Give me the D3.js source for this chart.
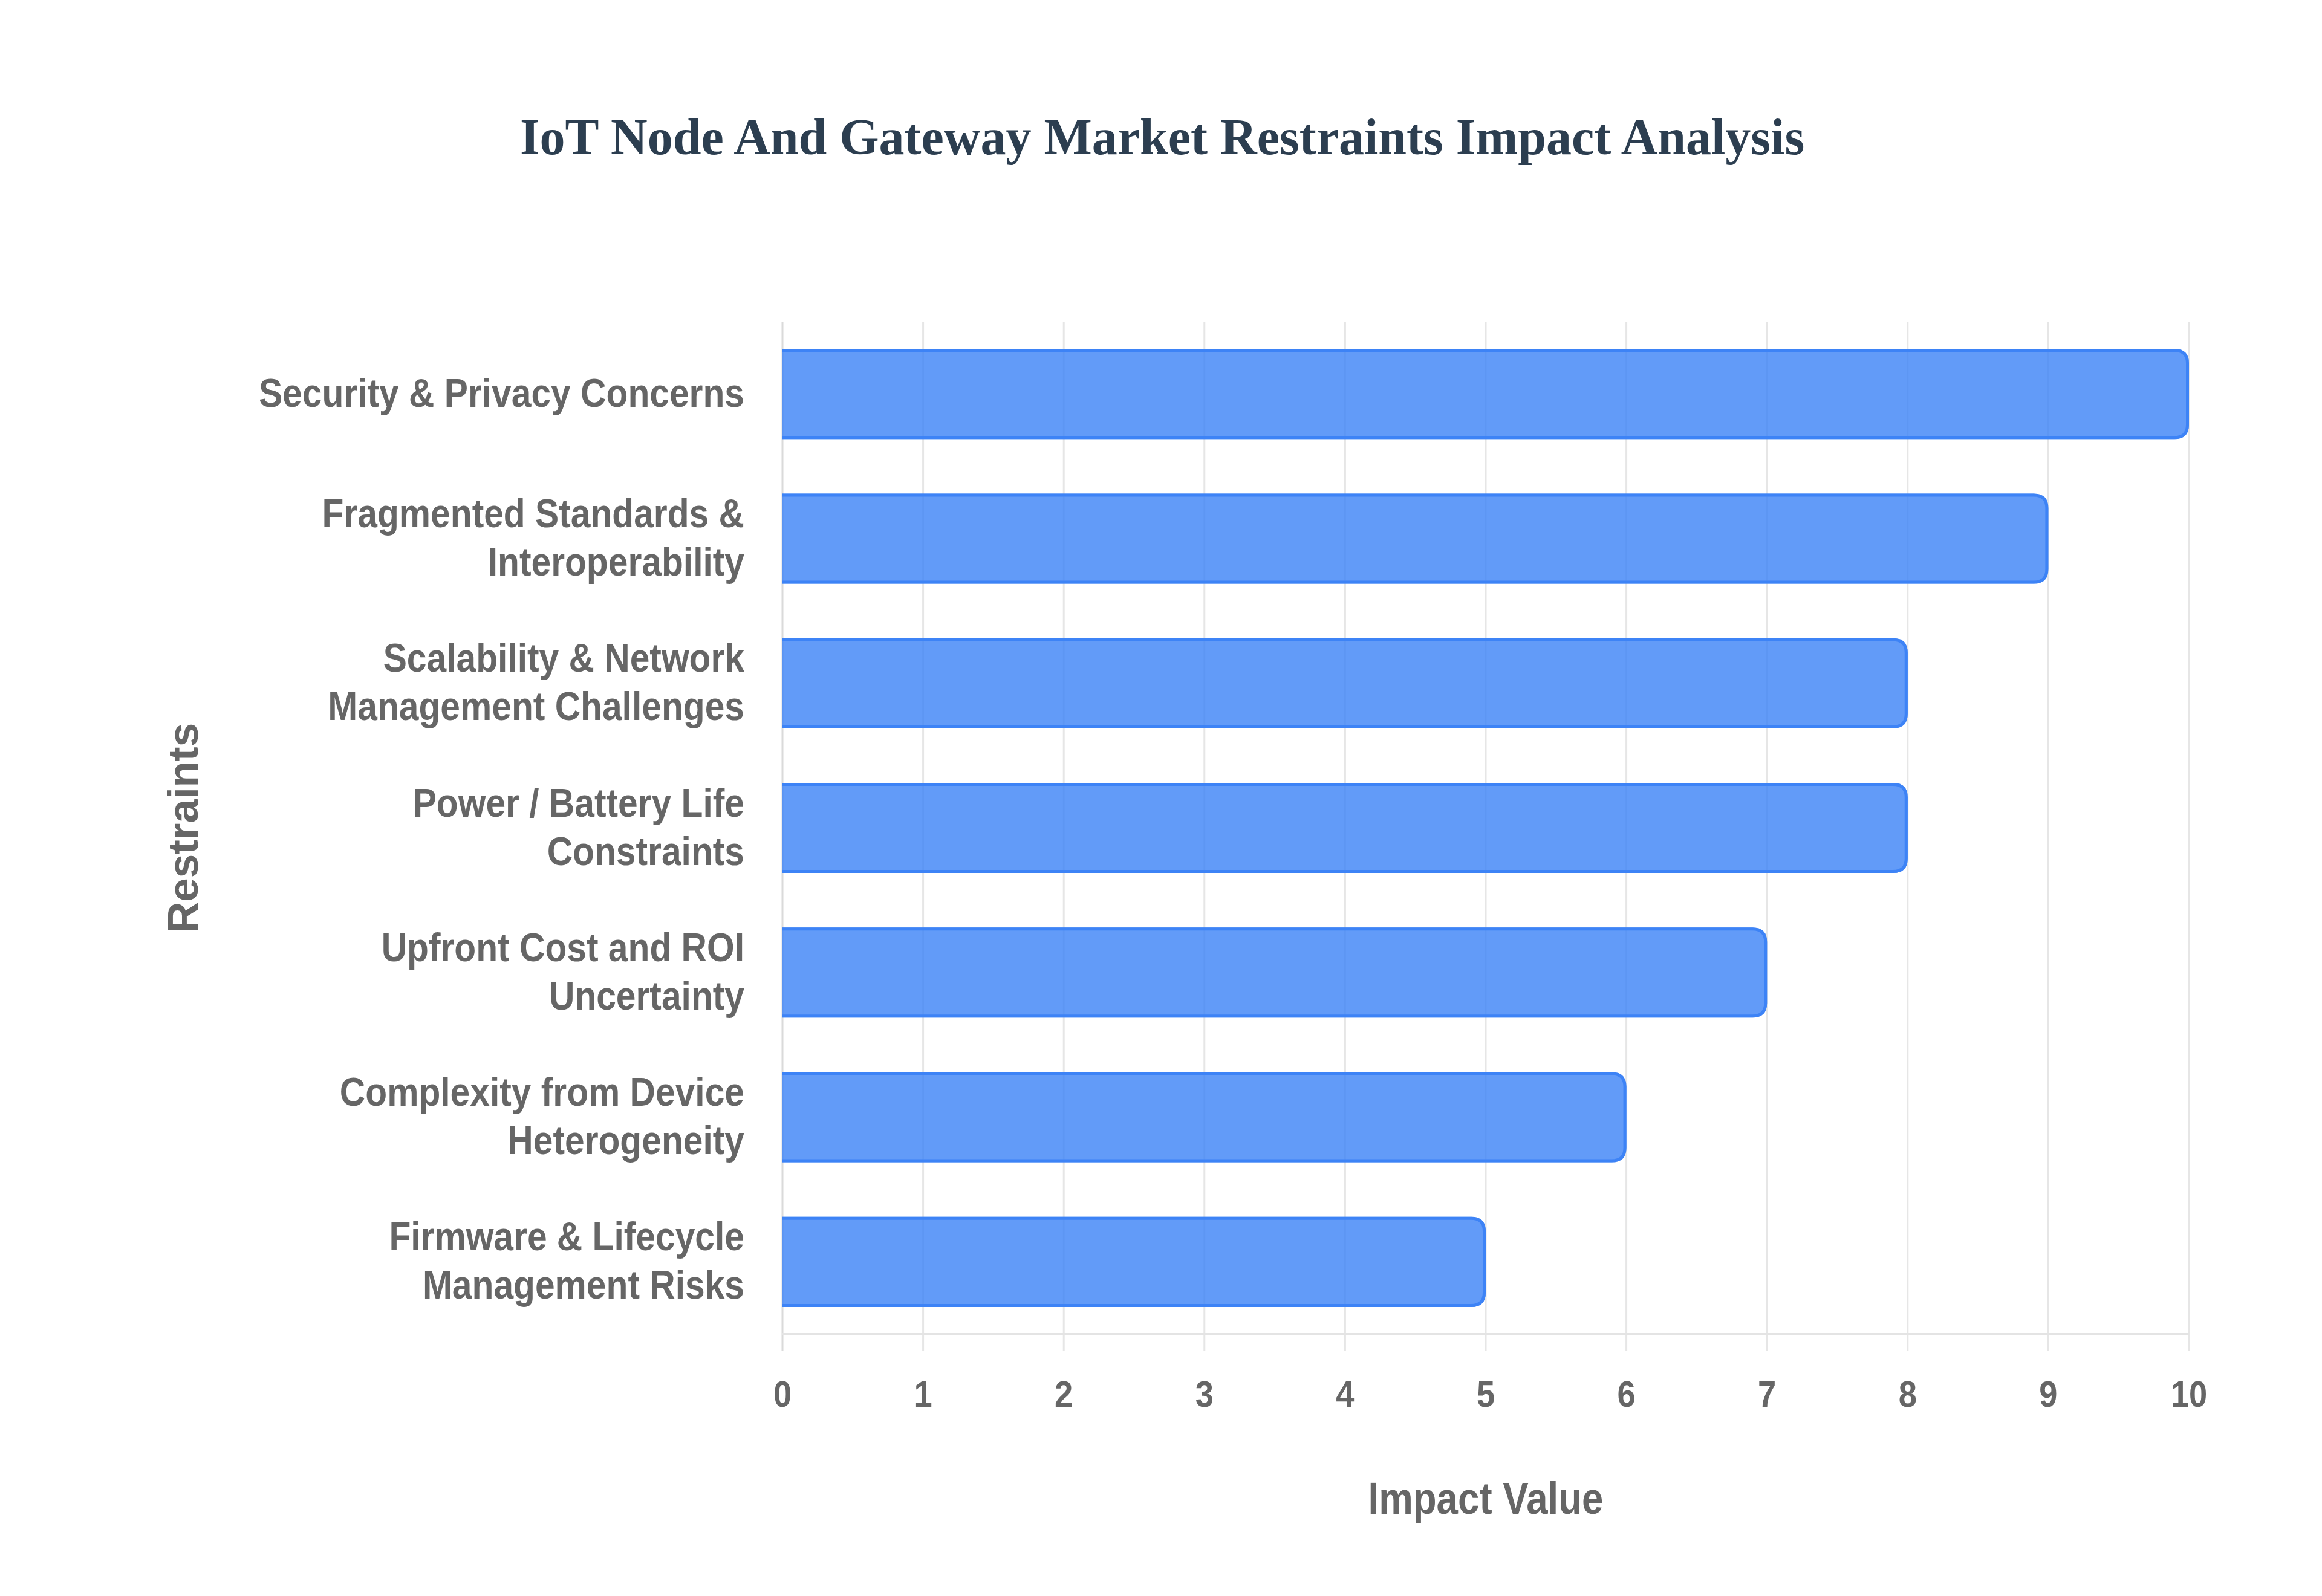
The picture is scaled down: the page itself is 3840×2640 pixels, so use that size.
<!DOCTYPE html>
<html>
<head>
<meta charset="utf-8">
<script src="https://cdn.jsdelivr.net/npm/d3@7"></script>
<style>
  html, body { margin: 0; padding: 0; background: #fff; }
  svg { display: block; }
</style>
</head>
<body>
<div id="chart"></div>
<script>
// chart data
const title = 'IoT Node And Gateway Market Restraints Impact Analysis';
const restraints = [
  ['Security & Privacy Concerns'],
  ['Fragmented Standards &', 'Interoperability'],
  ['Scalability & Network', 'Management Challenges'],
  ['Power / Battery Life', 'Constraints'],
  ['Upfront Cost and ROI', 'Uncertainty'],
  ['Complexity from Device', 'Heterogeneity'],
  ['Firmware & Lifecycle', 'Management Risks']
];
const impactValues = [10, 9, 8, 8, 7, 6, 5];
const xTicks = [0, 1, 2, 3, 4, 5, 6, 7, 8, 9, 10];
const xTitle = 'Impact Value';
const yTitle = 'Restraints';

const width = 3840;
const height = 2640;
const margin = { top: 532, right: 220, bottom: 433, left: 1294 };
const squeeze = 0.89; // the labels in the picture are a bit narrow
const sans = "'Liberation Sans', Arial, Helvetica, sans-serif";

const svg = d3.select('#chart')
  .append('svg')
  .attr('width', width)
  .attr('height', height);

const data = restraints.map((lines, i) => ({ key: lines.join(' '), lines, value: impactValues[i] }));

const x = d3.scaleLinear()
  .domain([0, 10])
  .range([margin.left, margin.left + 2326]);

const y = d3.scaleBand()
  .domain(data.map((d) => d.key))
  .range([margin.top, height - margin.bottom])
  .paddingInner(0.377)
  .paddingOuter(0.1885);

const plotBottom = height - margin.bottom;

// title
svg.append('text')
  .attr('x', 1922)
  .attr('y', 255)
  .attr('text-anchor', 'middle')
  .style('font-family', "'Liberation Serif', 'Times New Roman', serif")
  .style('font-weight', 'bold')
  .style('font-size', '84px')
  .style('fill', '#2c3e50')
  .text(title);

// vertical grid lines (they run a little past the bottom line as ticks)
svg.append('g')
  .selectAll('line')
  .data(xTicks)
  .enter()
  .append('line')
  .attr('x1', (d) => x(d))
  .attr('x2', (d) => x(d))
  .attr('y1', margin.top)
  .attr('y2', plotBottom + 28)
  .attr('stroke', (d) => (d === 0 ? '#dadada' : '#e6e6e6'))
  .attr('stroke-width', 3);

// bottom border line
svg.append('line')
  .attr('x1', x(0))
  .attr('x2', x(10))
  .attr('y1', plotBottom)
  .attr('y2', plotBottom)
  .attr('stroke', '#e4e4e4')
  .attr('stroke-width', 4);

// bars: square at zero, rounded at the end
const r = 24;
const bw = 5;
function fillPath(d) {
  const x0 = x(0), x1 = x(d.value), y0 = y(d.key), y1 = y0 + y.bandwidth();
  return `M${x0},${y0}H${x1 - r}Q${x1},${y0} ${x1},${y0 + r}V${y1 - r}Q${x1},${y1} ${x1 - r},${y1}H${x0}Z`;
}
function strokePath(d) {
  const h = bw / 2;
  const x0 = x(0), x1 = x(d.value) - h, y0 = y(d.key) + h, y1 = y(d.key) + y.bandwidth() - h;
  const rr = r - h;
  return `M${x0},${y0}H${x1 - rr}Q${x1},${y0} ${x1},${y0 + rr}V${y1 - rr}Q${x1},${y1} ${x1 - rr},${y1}H${x0}`;
}

const bars = svg.append('g')
  .selectAll('g')
  .data(data)
  .enter()
  .append('g');

bars.append('path')
  .attr('d', fillPath)
  .attr('fill', 'rgba(59, 130, 246, 0.8)');

bars.append('path')
  .attr('d', strokePath)
  .attr('fill', 'none')
  .attr('stroke', 'rgba(59, 130, 246, 0.95)')
  .attr('stroke-width', bw);

// category labels, right aligned, one or two lines
const lineH = 80;
svg.append('g')
  .selectAll('g')
  .data(data)
  .enter()
  .append('g')
  .attr('transform', (d) => `translate(1231, ${y(d.key) + y.bandwidth() / 2 + 21}) scale(${squeeze}, 1)`)
  .each(function (d) {
    const n = d.lines.length;
    d3.select(this)
      .selectAll('text')
      .data(d.lines)
      .enter()
      .append('text')
      .attr('x', 0)
      .attr('y', (t, i) => (i - (n - 1) / 2) * lineH)
      .attr('text-anchor', 'end')
      .style('font-family', sans)
      .style('font-weight', 'bold')
      .style('font-size', '66px')
      .style('fill', '#666')
      .text((t) => t);
  });

// x tick labels
svg.append('g')
  .selectAll('text')
  .data(xTicks)
  .enter()
  .append('text')
  .attr('transform', (d) => `translate(${x(d)}, 2327) scale(${squeeze}, 1)`)
  .attr('text-anchor', 'middle')
  .style('font-family', sans)
  .style('font-weight', 'bold')
  .style('font-size', '61px')
  .style('fill', '#666')
  .text((d) => d);

// axis titles
svg.append('text')
  .attr('transform', `translate(${(x(0) + x(10)) / 2}, 2504) scale(0.86, 1)`)
  .attr('text-anchor', 'middle')
  .style('font-family', sans)
  .style('font-weight', 'bold')
  .style('font-size', '74px')
  .style('fill', '#666')
  .text(xTitle);

svg.append('text')
  .attr('transform', `translate(327, ${(margin.top + plotBottom) / 2}) rotate(-90)`)
  .attr('text-anchor', 'middle')
  .style('font-family', sans)
  .style('font-weight', 'bold')
  .style('font-size', '71px')
  .style('fill', '#666')
  .text(yTitle);
</script>
</body>
</html>
